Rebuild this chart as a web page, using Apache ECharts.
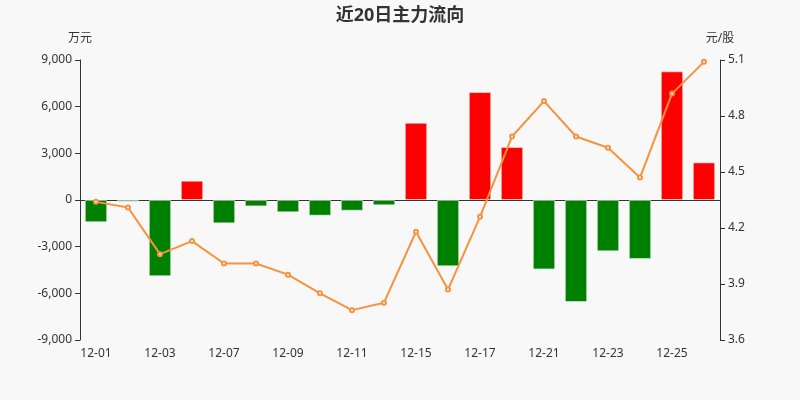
<!DOCTYPE html>
<html><head><meta charset="utf-8">
<script src="https://cdn.jsdelivr.net/npm/echarts@6/dist/echarts.min.js"></script>
<style>html,body{margin:0;padding:0;background:#f8f8f8}#c{width:800px;height:400px}</style>
</head><body><div id="c"></div>
<script>
const categories = ['12-01','12-02','12-03','12-04','12-07','12-08','12-09','12-10','12-11','12-14','12-15','12-16','12-17','12-18','12-21','12-22','12-23','12-24','12-25','12-28'];
const flowValues = [-1430,-110,-4900,1240,-1500,-410,-790,-1010,-690,-340,4970,-4260,6940,3410,-4460,-6560,-3300,-3790,8270,2420];
const priceValues = [4.34,4.31,4.06,4.13,4.01,4.01,3.95,3.85,3.76,3.80,4.18,3.87,4.26,4.69,4.88,4.69,4.63,4.47,4.92,5.09];
const titleText = '近20日主力流向';
const leftName = '万元';
const rightName = '元/股';

const chart = echarts.init(document.getElementById('c'));
const txt = '#333';
const ff = '"Noto Sans", "Noto Sans CJK SC", sans-serif';
chart.setOption({
  backgroundColor: '#f8f8f8',
  animation: false,
  textStyle: { fontFamily: ff },
  title: { text: titleText, left: 'center', top: 2, textStyle: { fontSize: 18, fontWeight: 'bold', color: txt, fontFamily: ff } },
  grid: { left: 80, right: 80, top: 60, bottom: 60 },
  xAxis: [
    { type: 'category', data: categories, axisLine: { onZero: true, onZeroAxisIndex: 0, lineStyle: { color: txt } },
      axisTick: { interval: 1, lineStyle: { color: txt } }, axisLabel: { show: false }, splitLine: { show: false } },
    { type: 'category', data: categories, position: 'bottom', axisLine: { show: false, onZero: false },
      axisTick: { show: false }, axisLabel: { interval: 1, color: txt, fontSize: 12, fontFamily: ff }, splitLine: { show: false } }
  ],
  yAxis: [
    { type: 'value', name: leftName, min: -9000, max: 9000, interval: 3000, nameTextStyle: { color: txt, fontSize: 12, align: 'center', fontFamily: ff }, nameGap: 15,
      axisLine: { show: true, lineStyle: { color: txt } }, axisTick: { show: true }, splitLine: { show: false },
      axisLabel: { color: txt, fontSize: 12, fontFamily: ff, formatter: v => v.toLocaleString('en-US') } },
    { type: 'value', name: rightName, min: 3.6, max: 5.1, interval: 0.3, position: 'right', nameTextStyle: { color: txt, fontSize: 12, fontFamily: ff }, nameGap: 15,
      axisLine: { show: true, lineStyle: { color: txt } }, axisTick: { show: true }, splitLine: { show: false },
      axisLabel: { color: txt, fontSize: 12, fontFamily: ff, formatter: v => v.toFixed(1) } }
  ],
  series: [
    { type: 'bar', xAxisIndex: 0, yAxisIndex: 0, barWidth: '70%', data: flowValues,
      itemStyle: { color: p => p.value >= 0 ? '#ff0000' : '#008000', borderColor: 'rgba(255,255,255,0.5)', borderWidth: 1 } },
    { type: 'line', xAxisIndex: 0, yAxisIndex: 1, data: priceValues, symbol: 'emptyCircle', symbolSize: 4,
      lineStyle: { color: '#f7923f', width: 2 }, itemStyle: { color: '#f7923f' } }
  ]
});
</script></body></html>
